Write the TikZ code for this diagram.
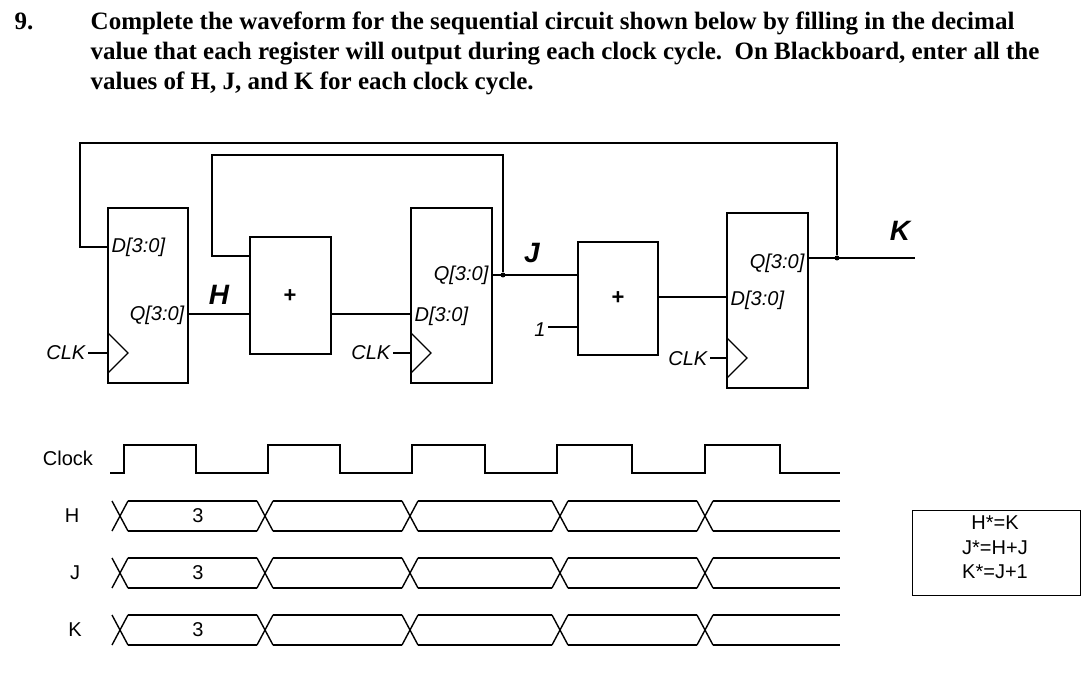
\documentclass[tikz,border=0pt]{standalone}
\usepackage{fontspec}
\setmainfont{Liberation Serif}
\newfontfamily\arialf{Liberation Sans}
\begin{document}
\begin{tikzpicture}[x=1pt,y=-1pt,line width=1.4pt,
  lbl/.style={font=\arialf\itshape\fontsize{20}{20}\selectfont,inner sep=1pt},
  big/.style={font=\arialf\bfseries\itshape\fontsize{28}{28}\selectfont,inner sep=0pt},
  wl/.style={font=\arialf\fontsize{20}{20}\selectfont,inner sep=0pt},
  hd/.style={font=\bfseries\fontsize{25}{25}\selectfont,anchor=base west,inner sep=0pt},
  dot/.style={circle,fill,inner sep=0pt,minimum size=5pt}]
\useasboundingbox (0,0) rectangle (1088,687);
% header
\node[hd] (n9) at (14,30) {9.};
\node[hd] (h1) at (90,30) {Complete the waveform for the sequential circuit shown below by filling in the decimal};
\node[hd] (h2) at (90,60) {value that each register will output during each clock cycle.\ \ On Blackboard, enter all the};
\node[hd] (h3) at (90,90) {values of H, J, and K for each clock cycle.};
% registers
\draw (108,208) rectangle (188,383);
\draw (108,333) -- (128,353) -- (108,373);
\draw (411,208) rectangle (492,383);
\draw (411,333) -- (431,353) -- (411,373);
\draw (727,213) rectangle (808,388);
\draw (727,338) -- (747,358) -- (727,378);
\draw (250,237) rectangle (331,354);
\draw (578,242) rectangle (658,355);
\node[wl,font=\arialf\bfseries\fontsize{22}{22}\selectfont] (p1) at (290,296) {+};
\node[wl,font=\arialf\bfseries\fontsize{22}{22}\selectfont] (p2) at (618,298) {+};
\node[lbl,anchor=west] (d1) at (110,247) {D[3:0]};
\node[lbl,anchor=east] (q1) at (186,315) {Q[3:0]};
\node[lbl,anchor=east] (q2) at (490,275) {Q[3:0]};
\node[lbl,anchor=west] (d2) at (413,316) {D[3:0]};
\node[lbl,anchor=east] (q3) at (806,263) {Q[3:0]};
\node[lbl,anchor=west] (d3) at (729,300) {D[3:0]};
\node[lbl,anchor=east] (c1) at (87,353) {CLK};
\node[lbl,anchor=east] (c2) at (392,353) {CLK};
\node[lbl,anchor=east] (c3) at (709,359) {CLK};
\draw (88,353) -- (108,353); \draw (393,353) -- (411,353); \draw (710,358) -- (727,358);
\node[big] (H) at (219,295) {H};
\node[big] (J) at (532,253) {J};
\node[big] (K) at (900,231) {K};
\node[lbl] (one) at (540,330) {1};
% wires
\draw (188,314) -- (250,314);
\draw (331,314) -- (411,314);
\draw (492,275) -- (578,275);
\draw (548,327) -- (578,327);
\draw (658,297) -- (727,297);
\draw (808,258) -- (915,258);
\node[dot] (j) at (503,275) {};
\node[dot] (k) at (837,258) {};
\draw (j) -- (503,155) -- (212,155) -- (212,256) -- (250,256);
\draw (k) -- (837,143) -- (80,143) -- (80,247) -- (108,247);
% waveform
\node[wl] (lc) at (68,458) {Clock};
\node[wl] (lh) at (72,516) {H};
\node[wl] (lj) at (75,573) {J};
\node[wl] (lk) at (75,630) {K};
\draw (110,473) -- (124,473) -- (124,445) -- (196,445) -- (196,473) -- (268,473) -- (268,445) -- (340,445) -- (340,473)
 -- (412,473) -- (412,445) -- (485,445) -- (485,473) -- (557,473) -- (557,445) -- (632,445) -- (632,473)
 -- (705,473) -- (705,445) -- (780,445) -- (780,473) -- (840,473);
\foreach \y/\n in {516/3,573/3,630/3}{
  \foreach \t in {120,265,410,560,705}{
    \draw (\t-8,\y-15) -- (\t+8,\y+15);
    \draw (\t-8,\y+15) -- (\t+8,\y-15);
  }
  \foreach \a/\b in {120/265,265/410,410/560,560/705}{
    \draw (\a+8,\y-15) -- (\b-8,\y-15);
    \draw (\a+8,\y+15) -- (\b-8,\y+15);
  }
  \draw (713,\y-15) -- (840,\y-15);
  \draw (713,\y+15) -- (840,\y+15);
  \node[wl] at (198,\y) {\n};
}
\draw[line width=1pt] (912,510) rectangle (1080,595);
\node[wl] (e1) at (995,523) {H*=K};
\node[wl] (e2) at (995,548) {J*=H+J};
\node[wl] (e3) at (995,572) {K*=J+1};
\end{tikzpicture}
\end{document}
